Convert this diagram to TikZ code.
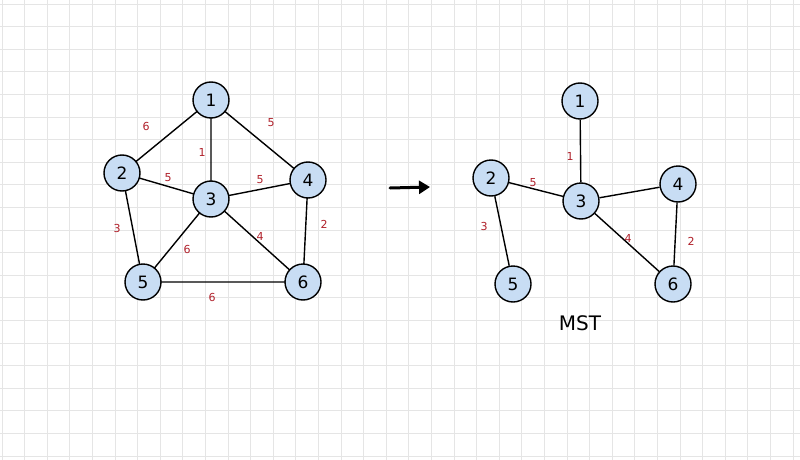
\documentclass[tikz,border=0pt]{standalone}
\usepackage{fontspec}
\setmainfont{DejaVu Sans}
\usetikzlibrary{arrows.meta}
\definecolor{nodefill}{HTML}{C8DDF4}
\definecolor{wred}{HTML}{B0202A}
\begin{document}
\begin{tikzpicture}[x=1pt,y=-1pt,
  vtx/.style={circle,draw=black,line width=1.4pt,fill=nodefill,minimum size=36pt,inner sep=0pt,font=\fontsize{17}{17}\selectfont},
  edge/.style={line width=1.4pt},
  wl/.style={text=wred,font=\fontsize{11}{11}\selectfont}]
\fill[white] (0,0) rectangle (800,460);
\useasboundingbox (0,0) rectangle (800,460);
\foreach \i in {0,...,35} {\draw[black!10,line width=0.8pt] (2+22.6*\i,0)--(2+22.6*\i,460);}
\foreach \j in {0,...,20} {\draw[black!10,line width=0.8pt] (0,4+22.6*\j)--(800,4+22.6*\j);}
\draw[edge] (211,100)--(122,173) (211,100)--(211,199) (211,100)--(308,180) (122,173)--(211,199) (211,199)--(308,180) (122,173)--(143,282) (211,199)--(143,282) (211,199)--(303,282) (308,180)--(303,282) (143,282)--(303,282);
\node[vtx] (a1) at (211,100) {1};
\node[vtx] (a2) at (122,173) {2};
\node[vtx] (a3) at (211,199) {3};
\node[vtx] (a4) at (308,180) {4};
\node[vtx] (a5) at (143,282) {5};
\node[vtx] (a6) at (303,282) {6};
\node[wl] at (146,126) {6}; \node[wl] at (271,123) {5}; \node[wl] at (202,152) {1};
\node[wl] at (168,178) {5}; \node[wl] at (260,180) {5}; \node[wl] at (117,228) {3};
\node[wl] at (187,249) {6}; \node[wl] at (260,236) {4}; \node[wl] at (324,224) {2};
\node[wl] at (212,297) {6};
\node[vtx] (b1) at (580,101) {1};
\node[vtx] (b2) at (491,178) {2};
\node[vtx] (b3) at (581,201) {3};
\node[vtx] (b4) at (678,184) {4};
\node[vtx] (b5) at (513,284) {5};
\node[vtx] (b6) at (673,284) {6};
\draw[edge] (b1)--(b3) (b2)--(b3) (b2)--(b5) (b3)--(b4) (b3)--(b6) (b4)--(b6);
\node[wl] at (570,156) {1}; \node[wl] at (533,183) {5}; \node[wl] at (484,226) {3};
\node[wl] at (628,238) {4}; \node[wl] at (691,241) {2};
\coordinate (p) at (390,188); \coordinate (q) at (430,187);
\draw[line width=3pt,line cap=round,-{Triangle[length=11pt,width=13pt]}] (p)--(q);
\node[font=\fontsize{20}{20}\selectfont] (mst) at (580,323) {MST};
\end{tikzpicture}
\end{document}
